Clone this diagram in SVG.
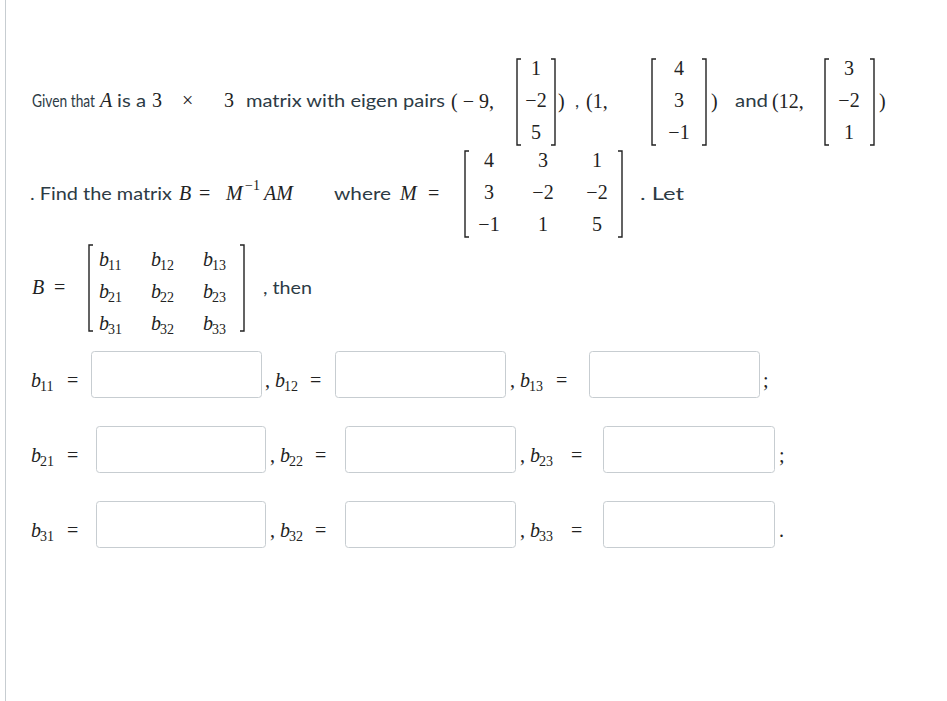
<svg xmlns="http://www.w3.org/2000/svg" width="947" height="701" viewBox="0 0 947 701">
<style>
.t{font-family:Lato,"Liberation Sans",sans-serif;font-size:18px;fill:#2d3b45}
.m{font-family:"Liberation Serif","DejaVu Serif",serif;font-size:20px;fill:#222}
.i{font-family:"Liberation Serif","DejaVu Serif",serif;font-size:20px;font-style:italic;fill:#222}
.s{font-family:"Liberation Serif","DejaVu Serif",serif;font-size:14px;fill:#222}
.br{fill:none;stroke:#222;stroke-width:1.4}
.box{fill:#fff;stroke:#c7cdd1;stroke-width:1}
</style>
<rect width="947" height="701" fill="#fff"/>
<line x1="5.5" y1="0" x2="5.5" y2="701" stroke="#c7cdd1"/>
<g id="line1">
<text x="32" y="107" class="t" textLength="63" lengthAdjust="spacingAndGlyphs">Given that</text>
<text x="100" y="107" class="i">A</text>
<text x="117" y="107" class="t" textLength="29" lengthAdjust="spacingAndGlyphs">is a</text>
<text x="152" y="107" class="m">3</text>
<text x="182" y="107" class="m">×</text>
<text x="224" y="107" class="m">3</text>
<text x="246" y="107" class="t" textLength="199" lengthAdjust="spacingAndGlyphs">matrix with eigen pairs</text>
<text x="451" y="108" class="m">( − 9,</text>
<path class="br" d="M521,59 h-4 v86 h4 M551,59 h4 v86 h-4"/>
<text x="536" y="75" class="m" text-anchor="middle">1</text>
<text x="536" y="107" class="m" text-anchor="middle">−2</text>
<text x="536" y="139" class="m" text-anchor="middle">5</text>
<text x="558" y="108" class="m">)</text>
<text x="575" y="107" class="t">,</text>
<text x="586" y="108" class="m">(1,</text>
<path class="br" d="M656,59 h-4 v86 h4 M702,59 h4 v86 h-4"/>
<text x="679" y="75" class="m" text-anchor="middle">4</text>
<text x="679" y="107" class="m" text-anchor="middle">3</text>
<text x="679" y="139" class="m" text-anchor="middle">−1</text>
<text x="711" y="108" class="m">)</text>
<text x="735" y="107" class="t" textLength="33" lengthAdjust="spacingAndGlyphs">and</text>
<text x="772" y="108" class="m">(12,</text>
<path class="br" d="M829,59 h-4 v86 h4 M870,59 h4 v86 h-4"/>
<text x="849" y="75" class="m" text-anchor="middle">3</text>
<text x="849" y="107" class="m" text-anchor="middle">−2</text>
<text x="849" y="139" class="m" text-anchor="middle">1</text>
<text x="879" y="108" class="m">)</text>
</g>
<g id="line2">
<text x="30" y="200" class="t" textLength="142" lengthAdjust="spacingAndGlyphs">. Find the matrix</text>
<text x="179" y="200" class="i">B</text>
<text x="199" y="200" class="m">=</text>
<text x="226" y="200" class="i">M</text>
<text x="245" y="190" class="s">−1</text>
<text x="264" y="200" class="i">AM</text>
<text x="334" y="200" class="t" textLength="57" lengthAdjust="spacingAndGlyphs">where</text>
<text x="400" y="200" class="i">M</text>
<text x="428" y="200" class="m">=</text>
<path class="br" d="M469,151 h-4 v86 h4 M618,151 h4 v86 h-4"/>
<text x="489" y="167" class="m" text-anchor="middle">4</text>
<text x="543" y="167" class="m" text-anchor="middle">3</text>
<text x="597" y="167" class="m" text-anchor="middle">1</text>
<text x="489" y="199" class="m" text-anchor="middle">3</text>
<text x="543" y="199" class="m" text-anchor="middle">−2</text>
<text x="597" y="199" class="m" text-anchor="middle">−2</text>
<text x="489" y="231" class="m" text-anchor="middle">−1</text>
<text x="543" y="231" class="m" text-anchor="middle">1</text>
<text x="597" y="231" class="m" text-anchor="middle">5</text>
<text x="640" y="200" class="t" textLength="44" lengthAdjust="spacingAndGlyphs">. Let</text>
</g>
<g id="line3">
<text x="32" y="294" class="i">B</text>
<text x="54" y="294" class="m">=</text>
<path class="br" d="M93,245 h-4 v86 h4 M240,245 h4 v86 h-4"/>
<text x="99" y="266" class="i">b</text><text x="108" y="270" class="s">11</text>
<text x="151" y="266" class="i">b</text><text x="160" y="270" class="s">12</text>
<text x="203" y="266" class="i">b</text><text x="212" y="270" class="s">13</text>
<text x="99" y="298" class="i">b</text><text x="108" y="302" class="s">21</text>
<text x="151" y="298" class="i">b</text><text x="160" y="302" class="s">22</text>
<text x="203" y="298" class="i">b</text><text x="212" y="302" class="s">23</text>
<text x="99" y="330" class="i">b</text><text x="108" y="334" class="s">31</text>
<text x="151" y="330" class="i">b</text><text x="160" y="334" class="s">32</text>
<text x="203" y="330" class="i">b</text><text x="212" y="334" class="s">33</text>
<text x="263" y="294" class="t" textLength="49" lengthAdjust="spacingAndGlyphs">, then</text>
</g>
<g id="row1">
<text x="31" y="387" class="i">b</text><text x="40" y="391" class="s">11</text><text x="67" y="387" class="m">=</text>
<rect class="box" x="91.5" y="351.5" width="170" height="46" rx="3"/>
<text x="265" y="387" class="m">,</text><text x="275" y="387" class="i">b</text><text x="284" y="391" class="s">12</text><text x="310" y="387" class="m">=</text>
<rect class="box" x="335.5" y="351.5" width="170" height="46" rx="3"/>
<text x="510" y="387" class="m">,</text><text x="520" y="387" class="i">b</text><text x="529" y="391" class="s">13</text><text x="556" y="387" class="m">=</text>
<rect class="box" x="589.5" y="351.5" width="170" height="46" rx="3"/>
<text x="763" y="387" class="m">;</text>
</g>
<g id="row2">
<text x="31" y="462" class="i">b</text><text x="40" y="466" class="s">21</text><text x="67" y="462" class="m">=</text>
<rect class="box" x="96.5" y="426.5" width="169" height="46" rx="3"/>
<text x="270" y="462" class="m">,</text><text x="280" y="462" class="i">b</text><text x="289" y="466" class="s">22</text><text x="315" y="462" class="m">=</text>
<rect class="box" x="345.5" y="426.5" width="170" height="46" rx="3"/>
<text x="520" y="462" class="m">,</text><text x="530" y="462" class="i">b</text><text x="539" y="466" class="s">23</text><text x="571" y="462" class="m">=</text>
<rect class="box" x="603.5" y="426.5" width="171" height="46" rx="3"/>
<text x="779" y="462" class="m">;</text>
</g>
<g id="row3">
<text x="31" y="537" class="i">b</text><text x="40" y="541" class="s">31</text><text x="67" y="537" class="m">=</text>
<rect class="box" x="96.5" y="501.5" width="169" height="46" rx="3"/>
<text x="270" y="537" class="m">,</text><text x="280" y="537" class="i">b</text><text x="289" y="541" class="s">32</text><text x="315" y="537" class="m">=</text>
<rect class="box" x="345.5" y="501.5" width="170" height="46" rx="3"/>
<text x="520" y="537" class="m">,</text><text x="530" y="537" class="i">b</text><text x="539" y="541" class="s">33</text><text x="571" y="537" class="m">=</text>
<rect class="box" x="603.5" y="501.5" width="171" height="46" rx="3"/>
<text x="779" y="537" class="m">.</text>
</g>
<g id="connectors"/>
</svg>
